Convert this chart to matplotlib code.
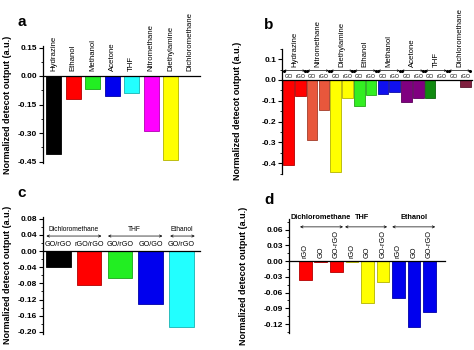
import matplotlib
matplotlib.use("Agg")
import matplotlib.pyplot as plt
import matplotlib.colors as mc
from matplotlib.ticker import MultipleLocator

plt.rcParams['font.family'] = ['Liberation Sans', 'DejaVu Sans']

# panel a
a_names = ["Hydrazine", "Ethanol", "Methanol", "Acetone", "THF",
           "Nitromethane", "Diethylamine", "Dichloromethane"]
a_vals = [-0.41, -0.12, -0.068, -0.105, -0.088, -0.29, -0.44, 0.0]
a_colors = ["#000000", "#ff0000", "#22ee22", "#0000ee", "#22ffff",
            "#ff00ff", "#ffff00", "#ffffff"]

# panel b
b_names = ["Hydrazine", "Nitromethane", "Diethylamine", "Ethanol",
           "Methanol", "Acetone", "THF", "Dichloromethane"]
b_go = [-0.41, -0.29, -0.44, -0.125, -0.068, -0.108, -0.088, -0.002]
b_rgo = [-0.078, -0.145, -0.088, -0.07, -0.06, -0.085, -0.002, -0.035]
b_colors = ["#ff0000", "#e8573c", "#ffff00", "#33ee22",
            "#1010ee", "#800080", "#108a10", "#802040"]
b_sub = ["GO", "rGO"]

# panel c
c_groups = ["Dichloromethane", "THF", "Ethanol"]
c_labels = ["GO/rGO", "rGO/rGO", "GO/rGO", "GO/GO", "GO/rGO"]
c_vals = [-0.04, -0.083, -0.067, -0.13, -0.188]
c_colors = ["#000000", "#ff0000", "#22ee22", "#0000ee", "#22ffff"]

# panel d
d_groups = ["Dichloromethane", "THF", "Ethanol"]
d_labels = ["rGO", "GO", "GO-rGO"] * 3
d_vals = [-0.036, -0.001, -0.021, -0.001, -0.08, -0.04, -0.071, -0.125, -0.097]
d_colors = ["#ff0000"] * 3 + ["#ffff00"] * 3 + ["#0000ee"] * 3

ylab = "Normalized detecot output (a.u.)"
W, H = 474, 350
fig = plt.figure(figsize=(W / 100, H / 100), dpi=100)


def px_axes(x0, y0, x1, y1):
    return fig.add_axes([x0 / W, 1 - y1 / H, (x1 - x0) / W, (y1 - y0) / H])


def style(ax, major, minor, fmt):
    for s in ["top", "right"]:
        ax.spines[s].set_visible(False)
    ax.spines["bottom"].set_position(("data", 0))
    ax.spines["left"].set_linewidth(0.9)
    ax.spines["bottom"].set_linewidth(0.9)
    ax.set_xticks([])
    ax.yaxis.set_major_locator(MultipleLocator(major))
    ax.yaxis.set_minor_locator(MultipleLocator(minor))
    ax.tick_params(axis="y", which="major", length=3, width=0.8, labelsize=6, pad=1.2)
    ax.tick_params(axis="y", which="minor", length=1.8, width=0.6)
    ax.yaxis.set_major_formatter(plt.FuncFormatter(lambda v, p: fmt.format(round(v, 4) + 0.0)))
    for t in ax.get_yticklabels():
        t.set_fontweight("bold")


def darker(c):
    r, g, b = mc.to_rgb(c)
    return (r * 0.7, g * 0.7, b * 0.7)


def ylabel(ax, xpix, x0, x1):
    ax.set_ylabel(ylab, fontsize=6.5, fontweight="bold")
    ax.yaxis.set_label_coords((xpix - x0) / (x1 - x0), 0.5)


# ---- a ----
ax = px_axes(43, 45.6, 200, 163.4)
xa = list(range(len(a_vals)))
ax.bar(xa, a_vals, width=0.77, color=a_colors,
       edgecolor=[darker(c) for c in a_colors], linewidth=0.6)
ax.set_xlim(-0.55, 7.5)
ax.set_ylim(-0.46, 0.16)
style(ax, 0.15, 0.075, "{:.2f}")
for i, n in enumerate(a_names):
    ax.text(i, 0.025, n, rotation=90, ha="center", va="bottom", fontsize=5.6, clip_on=False)
ylabel(ax, 12, 43, 200)
fig.text(22 / W, 1 - 22 / H, "a", fontsize=11, fontweight="bold", ha="center", va="center")

# ---- b ----
ax = px_axes(282, 48.8, 472, 173.6)
xb_go = [2 * i for i in range(len(b_go))]
xb_rgo = [2 * i + 1 for i in range(len(b_rgo))]
ax.bar(xb_go, b_go, width=0.9, color=b_colors,
       edgecolor=[darker(c) for c in b_colors], linewidth=0.6)
ax.bar(xb_rgo, b_rgo, width=0.9, color=b_colors,
       edgecolor=[darker(c) for c in b_colors], linewidth=0.6)
ax.set_xlim(-0.55, 15.55)
ax.set_ylim(-0.45, 0.15)
style(ax, 0.1, 0.05, "{:.1f}")
for i, n in enumerate(b_names):
    x0, x1 = 2 * i - 0.42, 2 * i + 1.42
    ax.annotate("", xy=(x0, 0.045), xytext=(x1, 0.045),
                arrowprops=dict(arrowstyle="<->", lw=0.5, mutation_scale=3,
                                shrinkA=0, shrinkB=0), annotation_clip=False)
    ax.plot([x0, x1], [0.045, 0.045], "o", ms=1.2, color="black", clip_on=False)
    ax.text(2 * i + 0.5, 0.062, n, rotation=90, ha="center", va="bottom", fontsize=5.6, clip_on=False)
    for j, s in enumerate(b_sub):
        ax.text(2 * i + j, 0.019, s, ha="center", va="center", fontsize=3.8, clip_on=False)
ylabel(ax, 242, 282, 472)
fig.text(269 / W, 1 - 25 / H, "b", fontsize=11, fontweight="bold", ha="center", va="center")

# ---- c ----
ax = px_axes(43, 216.6, 200, 334)
xc = list(range(len(c_vals)))
ax.bar(xc, c_vals, width=0.8, color=c_colors,
       edgecolor=[darker(c) for c in c_colors], linewidth=0.6)
ax.set_xlim(-0.5, 4.6)
ax.set_ylim(-0.205, 0.085)
style(ax, 0.04, 0.02, "{:.2f}")
c_spans = [(-0.39, 1.4), (1.61, 3.38), (3.63, 4.43)]
c_centers = [0.5, 2.45, 4.0]
for g, (x0, x1), xc0 in zip(c_groups, c_spans, c_centers):
    ax.annotate("", xy=(x0, 0.037), xytext=(x1, 0.037),
                arrowprops=dict(arrowstyle="<->", lw=0.5, mutation_scale=4,
                                shrinkA=0, shrinkB=0), annotation_clip=False)
    ax.text(xc0, 0.054, g, ha="center", va="center", fontsize=4.8, clip_on=False)
for i, s in enumerate(c_labels):
    ax.text(i, 0.017, s, ha="center", va="center", fontsize=5.2, clip_on=False)
ylabel(ax, 12, 43, 200)
fig.text(22 / W, 1 - 193 / H, "c", fontsize=11, fontweight="bold", ha="center", va="center")

# ---- d ----
ax = px_axes(289, 219, 445, 333)
xd = list(range(len(d_vals)))
ax.bar(xd, d_vals, width=0.82, color=d_colors,
       edgecolor=[darker(c) for c in d_colors], linewidth=0.6)
ax.set_xlim(-1.05, 9.0)
ax.set_ylim(-0.137, 0.08)
style(ax, 0.03, 0.015, "{:.2f}")
d_spans = [(-0.34, 2.43), (2.56, 5.27), (5.6, 8.37)]
d_centers = [1.0, 3.65, 7.0]
for g, (x0, x1), xc0 in zip(d_groups, d_spans, d_centers):
    ax.annotate("", xy=(x0, 0.065), xytext=(x1, 0.065),
                arrowprops=dict(arrowstyle="<->", lw=0.5, mutation_scale=4,
                                shrinkA=0, shrinkB=0), annotation_clip=False)
    ax.text(xc0, 0.082, g, ha="center", va="center", fontsize=5.3, fontweight="bold", clip_on=False)
for i, s in enumerate(d_labels):
    ax.text(i, 0.006, s, rotation=90, ha="center", va="bottom", fontsize=5.3, clip_on=False)
ylabel(ax, 248, 289, 445)
fig.text(269 / W, 1 - 200 / H, "d", fontsize=11, fontweight="bold", ha="center", va="center")

fig.savefig("out.png", dpi=100)
